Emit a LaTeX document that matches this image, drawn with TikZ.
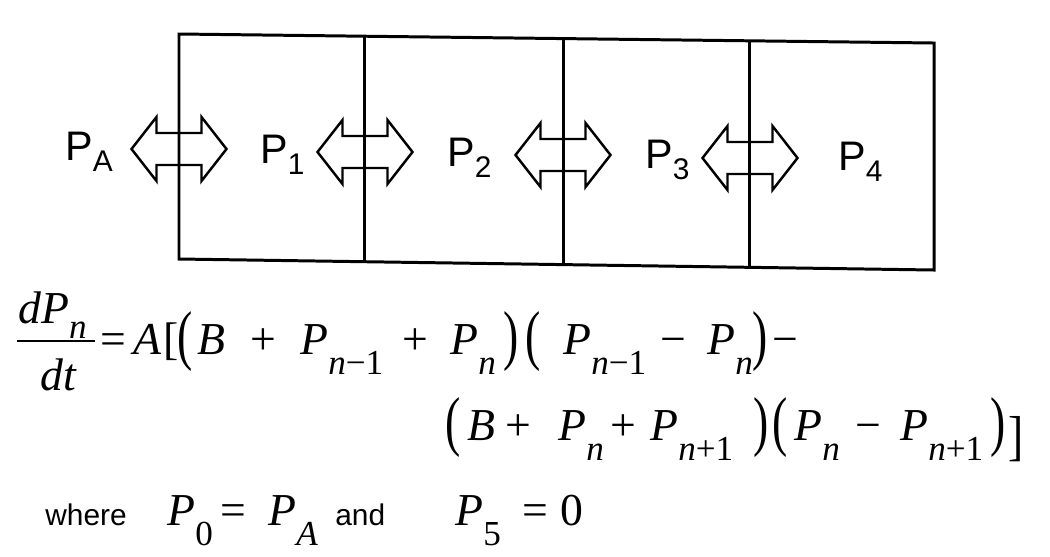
\documentclass[tikz,border=0pt]{standalone}
\usepackage{fontspec}
\usepackage{graphicx}
\setmainfont{Liberation Sans}
\newfontfamily\tms{Liberation Serif}
\usetikzlibrary{calc}
\newcommand\labsub[1]{\raisebox{-6.5pt}{\fontsize{17}{17}\selectfont #1}}
\newcommand\eqs[1]{\raisebox{-11.5pt}{\fontsize{20}{20}\selectfont #1}}
\newcommand\Pe[1]{\textit{P}\eqs{#1}}
\newcommand\tlp{\raisebox{-2pt}{\scalebox{1}[1.45]{(}}}
\newcommand\trp{\raisebox{-2pt}{\scalebox{1}[1.45]{)}}}
\newcommand\trb{\raisebox{-8pt}{\scalebox{1}[1.2]{]}}}
\tikzset{
  boxline/.style={line width=1.7pt, line join=miter},
  arrowline/.style={line width=1.4pt, line join=miter},
  dblarrow/.pic={\draw[arrowline] (-47.5,0) -- (-22.5,32) -- (-22.5,16) -- (22.5,16) -- (22.5,32) -- (47.5,0) -- (22.5,-32) -- (22.5,-16) -- (-22.5,-16) -- (-22.5,-32) -- cycle;},
  lab/.style={inner sep=0pt, anchor=base west, font=\fontsize{23.5}{28}\selectfont},
  tok/.style={inner sep=0pt, anchor=base west, font=\tms\fontsize{26}{30}\selectfont},
  sanstext/.style={inner sep=0pt, anchor=base west, font=\fontsize{17}{20}\selectfont}
}
\begin{document}
\begin{tikzpicture}[x=0.02cm, y=-0.02cm]
\useasboundingbox (0,0) rectangle (1050,556);
% box
\coordinate (TL) at (179,34);
\coordinate (TR) at (934,43);
\coordinate (BR) at (934,270);
\coordinate (BL) at (179,259);
\draw[boxline] (TL) -- (TR) -- (BR) -- (BL) -- cycle;
\draw[boxline] ($(TL)!0.246!(TR)$) -- ($(BL)!0.246!(BR)$);
\draw[boxline] ($(TL)!0.509!(TR)$) -- ($(BL)!0.509!(BR)$);
\draw[boxline] ($(TL)!0.756!(TR)$) -- ($(BL)!0.756!(BR)$);
% arrows
\pic at (179,149) {dblarrow};
\pic at (365,152) {dblarrow};
\pic at (563,155) {dblarrow};
\pic at (750,158) {dblarrow};
% labels
\node[lab] (pa) at (65,160) {P\labsub{A}};
\node[lab] (p1) at (260,163) {P\labsub{1}};
\node[lab] (p2) at (447,166) {P\labsub{2}};
\node[lab] (p3) at (645,168) {P\labsub{3}};
\node[lab] (p4) at (838,170) {P\labsub{4}};
% fraction
\node[tok] (num) at (18,323) {\textit{dP}\raisebox{-9pt}{\fontsize{20}{20}\selectfont\textit{n}}};
\draw[line width=1.5pt] (17,341) -- (95,341);
\node[tok, anchor=base] (den) at (59,390) {\textit{dt}};
% equation line 1
\node[tok] (eqa) at (100,354) {=};
\node[tok] (ta) at (133,354) {\textit{A}};
\node[tok] (lb) at (163,354) {[};
\node[tok] (o1) at (177,354) {\tlp};
\node[tok] (b1) at (197,354) {\textit{B}};
\node[tok] (s1) at (250,354) {+};
\node[tok] (p11) at (300,354) {\Pe{\textit{n}−1}};
\node[tok] (s2) at (402,354) {+};
\node[tok] (p12) at (450,354) {\Pe{\textit{n}}};
\node[tok] (c1) at (503,354) {\trp};
\node[tok] (o2) at (525,354) {\tlp};
\node[tok] (p13) at (563,354) {\Pe{\textit{n}−1}};
\node[tok] (m1) at (660,354) {−};
\node[tok] (p14) at (707,354) {\Pe{\textit{n}}};
\node[tok] (c2) at (752,354) {\trp};
\node[tok] (m2) at (772,354) {−};
% equation line 2
\node[tok] (o3) at (445,440) {\tlp};
\node[tok] (b2) at (467,440) {\textit{B}};
\node[tok] (s3) at (505,440) {+};
\node[tok] (p21) at (558,440) {\Pe{\textit{n}}};
\node[tok] (s4) at (610,440) {+};
\node[tok] (p22) at (650,440) {\Pe{\textit{n}+1}};
\node[tok] (c3) at (753,440) {\trp};
\node[tok] (o4) at (772,440) {\tlp};
\node[tok] (p23) at (794,440) {\Pe{\textit{n}}};
\node[tok] (m3) at (855,440) {−};
\node[tok] (p24) at (900,440) {\Pe{\textit{n}+1}};
\node[tok] (c4) at (990,440) {\trp};
\node[tok] (rb) at (1008,440) {\trb};
% bottom line
\node[sanstext] (where) at (45,525) {where};
\node[tok] (q0) at (167,525) {\Pe{0}};
\node[tok] (qe1) at (220,525) {=};
\node[tok] (qa) at (268,525) {\Pe{\textit{A}}};
\node[sanstext] (and) at (335,525) {and};
\node[tok] (q5) at (455,525) {\Pe{5}};
\node[tok] (qe2) at (522,525) {=};
\node[tok] (qz) at (560,525) {0};
\end{tikzpicture}
\end{document}
